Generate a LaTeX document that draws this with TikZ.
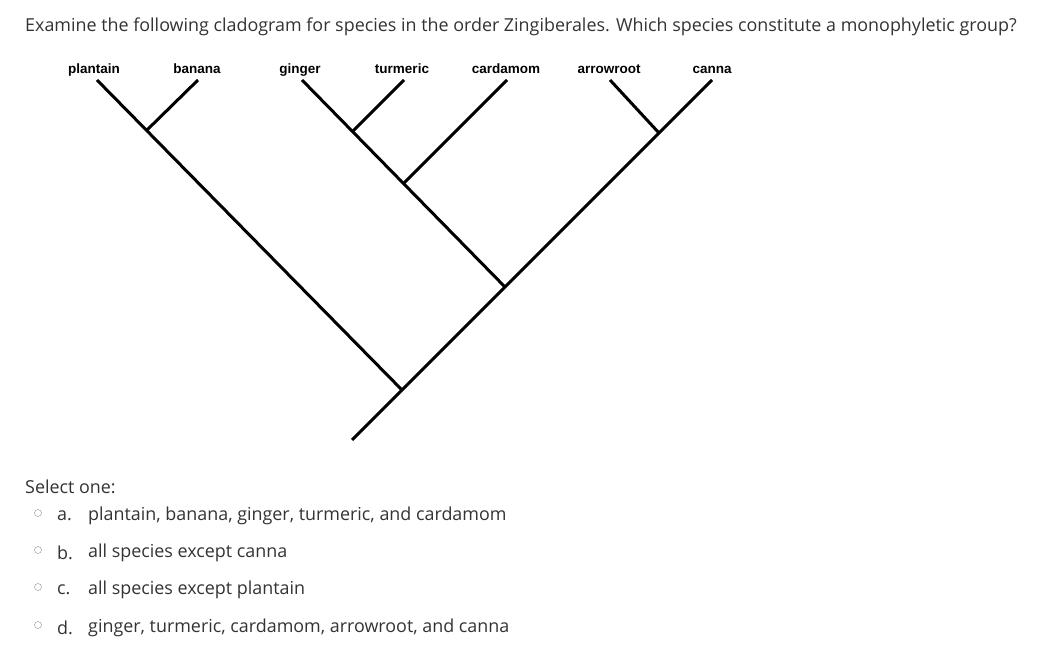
\documentclass[tikz,border=0pt]{standalone}
\usepackage{fontspec}
\setmainfont{Open Sans}
\newfontfamily\labfont{Liberation Sans}
\begin{document}
\begin{tikzpicture}[x=1pt,y=-1pt,
  br/.style={line width=3pt,black},
  sp/.style={font=\labfont\bfseries\fontsize{13.5}{15}\selectfont,inner sep=0pt,anchor=base},
  qt/.style={font=\fontsize{17.9}{21}\selectfont,text=black!80,inner sep=0pt,anchor=west},
  rb/.style={circle,draw=black!45,inner sep=0pt,minimum size=7pt}]
\useasboundingbox (0,0) rectangle (1040,658);
\node[qt] (q) at (25,27) {Examine the following cladogram for species in the order Zingiberales. Which species constitute a monophyletic group?};
\foreach \n/\x in {plantain/94,banana/197,ginger/300,turmeric/402,cardamom/506,arrowroot/609,canna/712}
  \node[sp] (\n) at (\x,74) {\n};
\coordinate (tp) at (97,80); \coordinate (tb) at (198,80);
\coordinate (tg) at (302,80); \coordinate (tt) at (404,80);
\coordinate (tc) at (507,80); \coordinate (ta) at (610,80);
\coordinate (tn) at (712,80);
\coordinate (n1) at (147,130); \coordinate (n2) at (353,131);
\coordinate (n3) at (404,183); \coordinate (n4) at (659,133);
\coordinate (n5) at (505,287); \coordinate (n6) at (402,390);
\coordinate (root) at (352,440);
\draw[br] (tp) -- (n6); \draw[br] (tb) -- (n1);
\draw[br] (tg) -- (n5); \draw[br] (tt) -- (n2);
\draw[br] (tc) -- (n3); \draw[br] (ta) -- (n4);
\draw[br] (tn) -- (root);
\node[qt] (sel) at (25,487) {Select one:};
\foreach \i/\l/\t/\y in {a/a./{plantain, banana, ginger, turmeric, and cardamom}/516,
  b/b./{all species except canna}/553, c/c./{all species except plantain}/590,
  d/d./{ginger, turmeric, cardamom, arrowroot, and canna}/628}{
  \node[rb] (r\i) at (38,\y-3) {};
  \node[qt] (l\i) at (57,\y) {\l};
  \node[qt] (o\i) at (88,\y) {\t};
}
\end{tikzpicture}
\end{document}
